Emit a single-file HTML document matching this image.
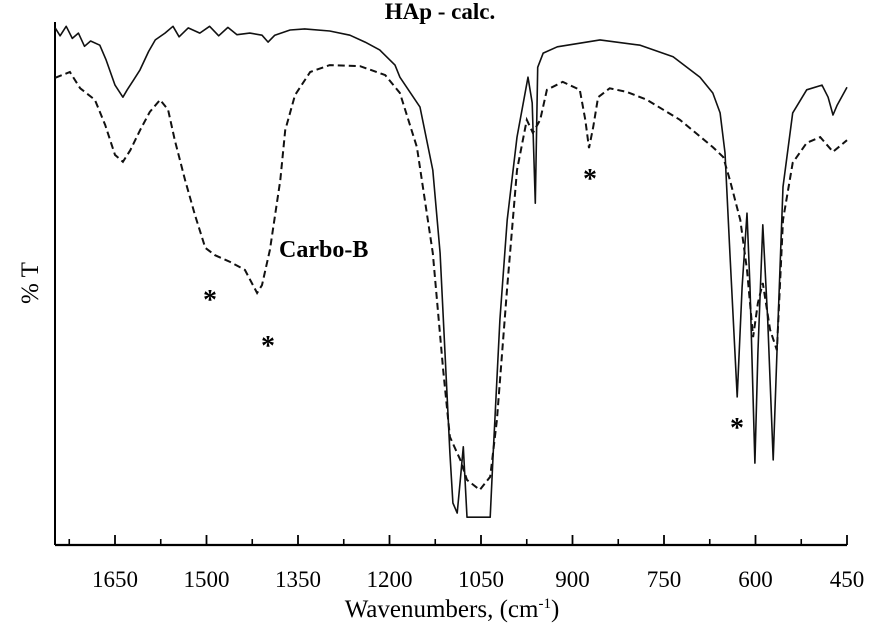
<!DOCTYPE html>
<html><head><meta charset="utf-8"><style>
html,body{margin:0;padding:0;background:#fff;}
svg{display:block;font-family:"Liberation Serif",serif;}
</style></head><body>
<svg id="chart" width="889" height="634" viewBox="0 0 889 634" xmlns="http://www.w3.org/2000/svg">
<g id="axes"></g>
<g id="series"></g>
<text x="440" y="19" font-size="23" font-weight="bold" text-anchor="middle">HAp - calc.</text>
<text x="279" y="257" font-size="24" font-weight="bold">Carbo-B</text>
<text x="210" y="309" font-size="28" font-weight="bold" text-anchor="middle">*</text>
<text x="268" y="355" font-size="28" font-weight="bold" text-anchor="middle">*</text>
<text x="590" y="188" font-size="28" font-weight="bold" text-anchor="middle">*</text>
<text x="737" y="437" font-size="28" font-weight="bold" text-anchor="middle">*</text>
<text transform="translate(38,283) rotate(-90)" font-size="25" text-anchor="middle">% T</text>
<text x="452" y="617" font-size="25" text-anchor="middle">Wavenumbers, (cm<tspan font-size="15" dy="-9">-1</tspan><tspan dy="9">)</tspan></text>
</svg>
<script>
const xTicks = [1650, 1500, 1350, 1200, 1050, 900, 750, 600, 450];
const xMinorTicks = [1725, 1575, 1425, 1275, 1125, 975, 825, 675, 525];
const hapWave = [1748,1740,1730,1720,1710,1700,1690,1675,1665,1650,1637,1630,1620,1609,1595,1584,1568,1555,1545,1530,1511,1495,1480,1465,1450,1429,1409,1399,1388,1363,1339,1298,1265,1240,1216,1191,1183,1150,1129,1117,1109,1101,1096,1089,1084,1079,1073,1035,1030,1019,1007,991,973,966,961,957,948,925,855,789,735,691,670,658,650,642,630,622,614,609,601,596,588,580,571,563,555,539,516,491,481,473,466,450];
const hapT = [98.5,97,98.8,96.5,97.5,95,96,95.2,92.5,87.6,85.3,86.7,88.5,90.5,94,96.2,97.5,98.8,96.8,98.5,97.5,98.8,97,98.6,97.2,97.5,97.1,95.8,97.1,98.1,98.3,97.9,97.1,95.8,94.3,91.4,89.1,83.4,71.4,55.6,36.6,17.5,8.0,6.1,12.4,18.7,5.3,5.3,17.5,42.9,61.9,77.7,89.1,84.2,65.1,91.0,93.7,94.9,96.2,95.2,93.0,89.1,86.1,82.3,74.7,55.6,28.2,49.1,63.2,49.1,15.6,36.6,61.0,42.9,16.2,42.9,68.2,82.3,86.7,87.6,85.3,81.9,83.8,87.2];
const carboWave = [1748,1724,1707,1683,1666,1650,1637,1625,1609,1593,1576,1563,1552,1535,1519,1502,1486,1461,1437,1417,1409,1396,1379,1371,1355,1330,1298,1248,1207,1183,1155,1129,1112,1101,1084,1073,1052,1035,1024,1007,991,975,965,953,942,916,888,879,873,866,858,839,811,778,724,670,653,642,625,614,604,596,588,576,565,555,539,516,494,473,450];
const carboT = [89.0,90.1,87.0,84.8,80.0,74.3,73.0,75.2,79.0,82.5,84.8,82.9,77.1,69.5,62.9,56.6,55.2,53.9,52.4,48.0,49.5,56.2,69.5,79.0,85.7,90.1,91.4,91.2,89.5,86.1,75.8,55.6,33.3,20.6,16.2,12.4,10.5,13.0,23.8,49.1,71.4,81.0,78.5,81.0,86.7,88.2,86.7,81.0,75.6,79.6,85.3,87.0,86.3,84.8,81.0,75.8,73.9,69.5,61.9,52.4,39.6,46.1,49.9,41.0,37.1,61.9,72.8,76.6,77.7,74.9,77.1];

const NS = 'http://www.w3.org/2000/svg';
const X0 = 55, X1 = 847, Y0 = 545, Y1 = 20;
function xScale(w){ return X1 - (w - 450) * (91.5/150); }
function yScale(t){ return Y0 - t * (Y0 - Y1) / 100; }
function mk(tag, attrs, parent){
  const e = document.createElementNS(NS, tag);
  for (const k in attrs) e.setAttribute(k, attrs[k]);
  parent.appendChild(e); return e;
}
const axes = document.getElementById('axes');
const xAxis = mk('path', {d:`M${X0},${Y0}H${X1}`, stroke:'#000','stroke-width':2.2, fill:'none'}, axes);


const yAxis = mk('path', {d:`M${X0},${Y1+2}V${Y0}`, stroke:'#000','stroke-width':2, fill:'none'}, axes);


xTicks.forEach(v => {
  const x = xScale(v);
  const t = mk('path', {d:`M${x},${Y0}V${Y0-10}`, stroke:'#000','stroke-width':1.8}, axes);
  
  
  const l = mk('text', {x:x, y:587, 'font-size':23, 'text-anchor':'middle'}, axes);
  l.textContent = v;
  
  
});
xMinorTicks.forEach(v => {
  const x = xScale(v);
  const t = mk('path', {d:`M${x},${Y0}V${Y0-6}`, stroke:'#000','stroke-width':1.6}, axes);
  
  
});
const series = document.getElementById('series');
function pathFor(ws, ts){ return ws.map((w,i)=>(i?'L':'M')+xScale(w).toFixed(1)+','+yScale(ts[i]).toFixed(1)).join(''); }
const hap = mk('path', {d:pathFor(hapWave, hapT), stroke:'#111', 'stroke-width':1.6, fill:'none', 'stroke-linejoin':'round'}, series);


const carbo = mk('path', {d:pathFor(carboWave, carboT), stroke:'#111', 'stroke-width':2, fill:'none', 'stroke-dasharray':'7 4'}, series);


</script>
</body></html>
